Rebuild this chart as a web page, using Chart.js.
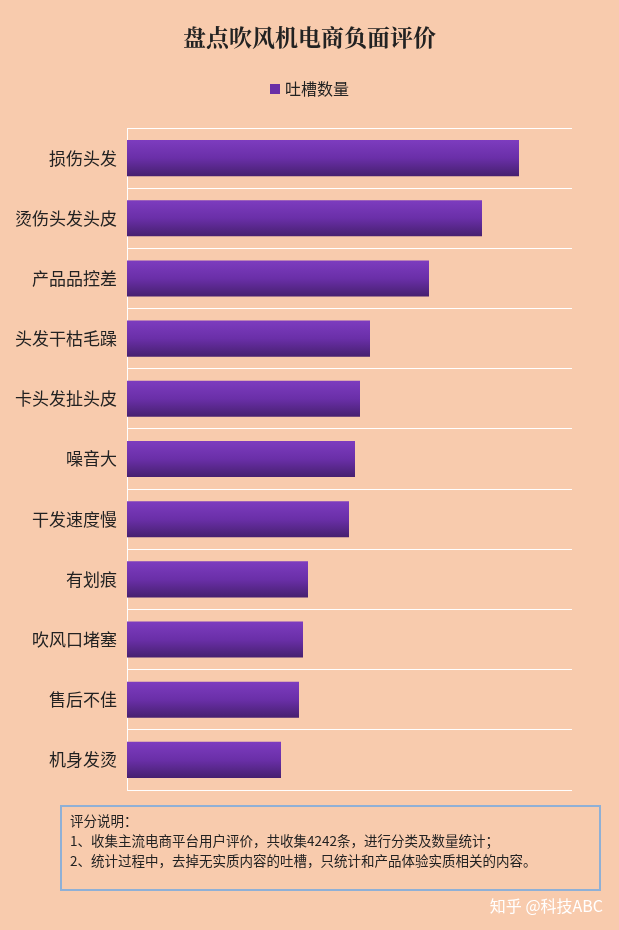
<!DOCTYPE html>
<html><head><meta charset="utf-8">
<script src="https://cdn.jsdelivr.net/npm/chart.js@4"></script>
<style>
body{margin:0;background:#f8cbad;font-family:"Noto Sans CJK SC",sans-serif;}
#wrap{position:relative;width:619px;height:930px;}
#title{position:absolute;top:20px;left:0;width:619px;text-align:center;font-size:23px;font-weight:bold;color:#222;font-family:"Noto Serif CJK SC","Noto Sans CJK SC",serif;}
#legend{position:absolute;top:76px;left:0;width:619px;text-align:center;font-size:16px;color:#222;}
#legend span{display:inline-block;width:10px;height:10px;background:#6a2fa6;margin-right:5px;vertical-align:1px;}
#note{position:absolute;left:60px;top:805px;width:541px;height:86px;border:2px solid #8fb0d6;padding:3px 8px;box-sizing:border-box;font-size:13.5px;line-height:20px;color:#222;}
#mark{position:absolute;right:16px;top:893px;font-size:16px;color:#fff;}
</style></head>
<body><div id="wrap">
<canvas id="c" width="619" height="930"></canvas>
<div id="title">盘点吹风机电商负面评价</div>
<div id="legend"><span></span>吐槽数量</div>
<div id="note">评分说明：<br>1、收集主流电商平台用户评价，共收集4242条，进行分类及数量统计；<br>2、统计过程中，去掉无实质内容的吐槽，只统计和产品体验实质相关的内容。</div>
<div id="mark">知乎 @科技ABC</div>
</div>
<script>
var categories = ["损伤头发","烫伤头发头皮","产品品控差","头发干枯毛躁","卡头发扯头皮","噪音大","干发速度慢","有划痕","吹风口堵塞","售后不佳","机身发烫"];
var counts = [392,355,302,243,233,228,222,181,176,172,154];

function barFill(c) {
  var el = c.chart.getDatasetMeta(0).data[c.dataIndex];
  if (!el || el.height == null || isNaN(el.y)) return '#6a2fa8';
  var g = c.chart.ctx.createLinearGradient(0, el.y - el.height/2, 0, el.y + el.height/2);
  g.addColorStop(0, '#7d3cbf');
  g.addColorStop(0.5, '#6a2fa8');
  g.addColorStop(1, '#46206f');
  return g;
}

var chart = new Chart(document.getElementById("c"), {
  type: "bar",
  data: {
    labels: categories,
    datasets: [{ label: "吐槽数量", data: counts, barPercentage: 0.6, categoryPercentage: 1, backgroundColor: barFill }]
  },
  options: {
    indexAxis: 'y',
    responsive: false,
    animation: false,
    layout: { padding: { top: 128, bottom: 140, right: 47, left: 0 } },
    plugins: { legend: { display: false }, tooltip: { enabled: false } },
    scales: {
      x: { min: 0, max: 445, display: false },
      y: {
        afterFit: (s) => { s.width = 127; },
        grid: { color: '#ffffff', offset: true, drawTicks: false, lineWidth: 1 },
        border: { color: '#ffffff' },
        ticks: { color: '#222', padding: 10, font: { size: 17, family: 'Noto Sans CJK SC' } }
      }
    }
  }
});
chart.update();
</script>
</body></html>
